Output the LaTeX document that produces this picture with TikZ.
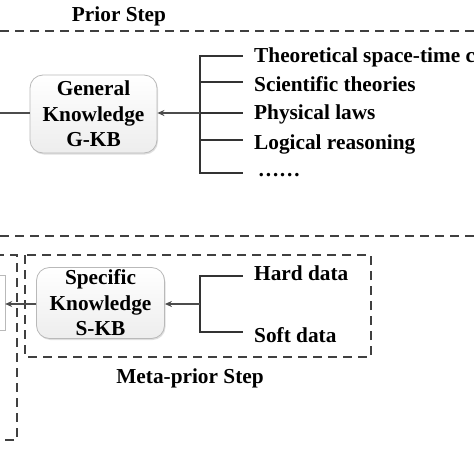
\documentclass[tikz,border=0pt]{standalone}
\usepackage{fontspec}
\setmainfont{Liberation Serif}
\usetikzlibrary{arrows.meta,shadows}
\begin{document}
\begin{tikzpicture}[x=1pt,y=-1pt,
  kb/.style={draw=gray!55,line width=0.8pt,rounded corners=13pt,top color=white,bottom color=gray!14,
    drop shadow={opacity=0.25,shadow xshift=1pt,shadow yshift=-1.5pt},align=center,
    font=\fontsize{21.3}{25.5}\selectfont\bfseries,inner sep=0pt},
  item/.style={anchor=west,inner xsep=11pt,inner ysep=0pt,text height=14pt,text depth=0pt,
    font=\fontsize{21.3}{25}\selectfont\bfseries},
  lbl/.style={font=\fontsize{21.3}{25}\selectfont\bfseries},
  brace/.style={draw=black!80,line width=1.8pt},
  link/.style={draw=black!70,line width=1.3pt},
  box/.style={draw=black!75,line width=1.3pt,dash pattern=on 9pt off 6pt}]
				\clip (0,0) rectangle (474,474);
				\fill[white] (0,0) rectangle (474,474);
				% prior step
				\node[lbl] (prior) at (119,16) {Prior Step};
				\draw[box] (0,31)--(474,31);
				\node[kb,minimum width=127pt,minimum height=78pt] (gkb) at (93.5,114) {General\\Knowledge\\G-KB};
				\node[item] (g1) at (243,55) {Theoretical space-time covariance};
				\node[item] (g2) at (243,84) {Scientific theories};
				\node[item] (g3) at (243,112) {Physical laws};
				\node[item] (g4) at (243,142.5) {Logical reasoning};
				\node[item] (g5) at (243,169) {\,……};
				\coordinate (gtop) at (200,56);
				\coordinate (gbot) at (200,173);
				\coordinate (gmid) at (200,113);
				\coordinate (gout) at (0,113);
				\draw[brace,line cap=rect] (gtop)--(gbot);
				\draw[brace] (gtop)--(g1.west|-gtop);
				\draw[brace] (200,82)--(g2.west|-{(0,82)});
				\draw[brace] (gmid)--(g3.west|-gmid);
				\draw[brace] (200,140)--(g4.west|-{(0,140)});
				\draw[brace] (gbot)--(g5.west|-gbot);
				\draw[link,-{Stealth[length=7pt,width=6pt]}] (gmid)--(gkb.east|-gmid);
				\draw[link] (gkb.west|-gmid)--(gout);
				% meta-prior step
				\draw[box] (0,236)--(474,236);
				\draw[box] (-5,255)--(17,255)--(17,440)--(-5,440);
				\draw[box] (25,255) rectangle (371,357);
				\node[lbl] (meta) at (190,378) {Meta-prior Step};
				\node[draw=gray!55,fill=white,minimum width=30pt,minimum height=55pt] (prev) at (-10,303) {};
				\node[kb,minimum width=128pt,minimum height=71pt] (skb) at (100.5,303) {Specific\\Knowledge\\S-KB};
				\node[item] (s1) at (243,273.5) {Hard data};
				\node[item] (s2) at (243,335) {Soft data};
				\coordinate (stop) at (200,276);
				\coordinate (sbot) at (200,332);
				\coordinate (smid) at (200,304);
				\draw[brace,line cap=rect] (stop)--(sbot);
				\draw[brace] (stop)--(s1.west|-stop);
				\draw[brace] (sbot)--(s2.west|-sbot);
				\draw[link,-{Stealth[length=7pt,width=6pt]}] (smid)--(skb.east|-smid);
				\draw[link,-{Stealth[length=7pt,width=6pt]}] (skb.west|-smid)--(prev.east|-smid);
			\end{tikzpicture}
\end{document}
